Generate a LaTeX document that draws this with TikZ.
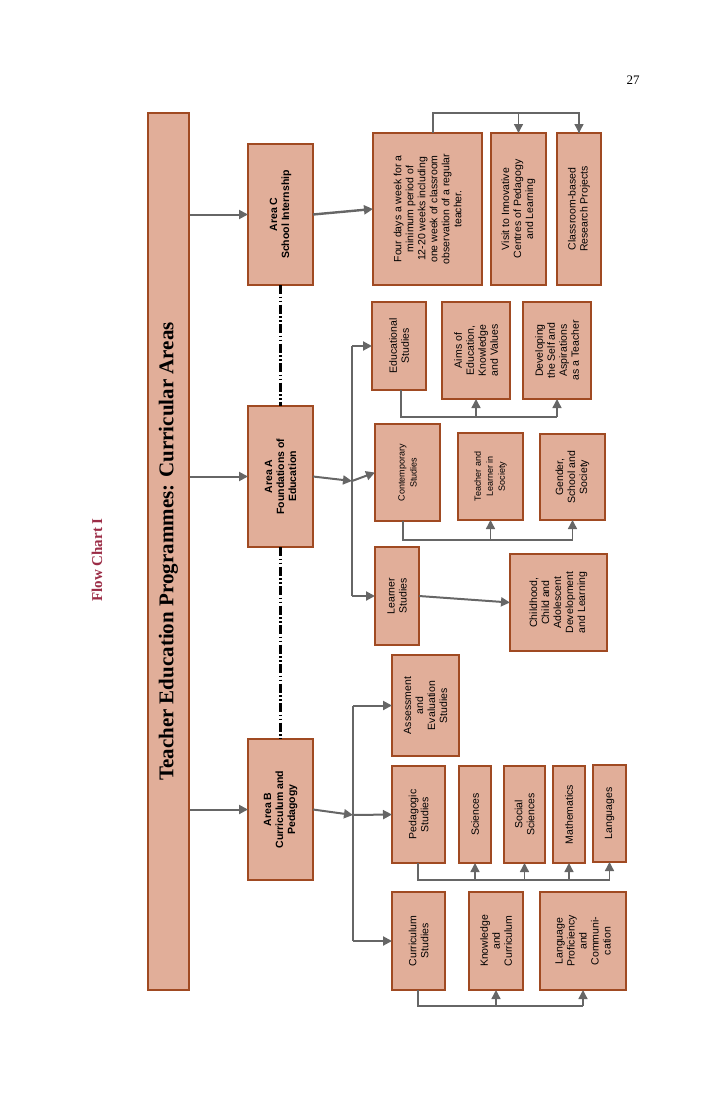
\documentclass[tikz,border=0pt]{standalone}
\usepackage{fontspec}
\setmainfont{Liberation Serif}
\setsansfont{Liberation Sans}
\usetikzlibrary{arrows.meta}
\definecolor{boxfill}{HTML}{E1AE99}
\definecolor{boxline}{HTML}{A04A22}
\definecolor{arrg}{HTML}{666666}
\definecolor{fcred}{HTML}{9B2C46}
\tikzset{
  box/.style={draw=boxline,fill=boxfill,line width=1.2pt,inner sep=1pt,outer sep=0pt,rotate=90,align=center,font=\sffamily\fontsize{10.5}{12}\selectfont},
  arr/.style={draw=arrg,line width=2pt,-{Triangle[length=9pt,width=9pt]}},
  thin/.style={draw=arrg,line width=1.4pt},
  tarr/.style={draw=arrg,line width=1.4pt,-{Triangle[length=9pt,width=9pt]}},
  dd/.style={line width=2.6pt,dash pattern=on 9pt off 2.5pt on 1.5pt off 2.5pt on 1.5pt off 2.5pt}
}
\newcommand\bx[6]{\node[box,minimum width={(#5-#3)*1pt},minimum height={(#4-#2)*1pt}] (#1) at ({(#2+#4)/2},{(#3+#5)/2}) {#6};}
\begin{document}
\begin{tikzpicture}[x=1pt,y=-1pt]
\useasboundingbox (0,0) rectangle (728,1120);
\node (pg) at (633,80) {\fontsize{13}{15}\selectfont 27};
\node[rotate=90,text=fcred,font=\bfseries\fontsize{15}{17}\selectfont] (fc) at (97,560) {Flow Chart I};
\node[draw=boxline,fill=boxfill,line width=1.2pt,rotate=90,minimum width=877pt,minimum height=41pt,inner sep=0pt,font=\bfseries\fontsize{21}{24}\selectfont] (main) at (168.5,551.5) {Teacher Education Programmes: Curricular Areas};
\bx{c}{248}{144}{313}{285}{\textbf{Area C}\\\textbf{School Internship}}
\bx{a}{248}{406}{313}{547}{\textbf{Area A}\\\textbf{Foundations of}\\\textbf{Education}}
\bx{b}{248}{739}{313}{880}{\textbf{Area B}\\\textbf{Curriculum and}\\\textbf{Pedagogy}}
\bx{f}{373}{133}{482}{285}{Four days a week for a\\minimum period of\\12-20 weeks including\\one week of classroom\\observation of a regular\\teacher.}
\bx{v}{491}{133}{546}{285}{Visit to Innovative\\Centres of Pedagogy\\and Learning}
\bx{r}{557}{133}{601}{285}{Classroom-based\\Research Projects}
\bx{es}{372}{302}{426}{390}{Educational\\Studies}
\bx{ai}{442}{302}{510}{399}{Aims of\\Education,\\Knowledge\\and Values}
\bx{dv}{523}{302}{591}{399}{Developing\\the Self and\\Aspirations\\as a Teacher}
\bx{cs}{375}{424}{440}{521}{\fontsize{9}{10.5}\selectfont Contemporary\\\fontsize{9}{10.5}\selectfont Studies}
\bx{tl}{458}{433}{523}{520}{\fontsize{9}{10.5}\selectfont Teacher and\\\fontsize{9}{10.5}\selectfont Learner in\\\fontsize{9}{10.5}\selectfont Society}
\bx{gs}{540}{434}{605}{520}{Gender,\\School and\\Society}
\bx{ls}{375}{547}{419}{645}{Learner\\Studies}
\bx{ch}{510}{554}{607}{651}{Childhood,\\Child and\\Adolescent\\Development\\and Learning}
\bx{as}{392}{655}{459}{756}{Assessment\\and\\Evaluation\\Studies}
\bx{ps}{392}{766}{445}{863}{Pedagogic\\Studies}
\bx{sc}{459}{766}{491}{863}{Sciences}
\bx{ss}{504}{766}{545}{863}{Social\\Sciences}
\bx{ma}{553}{766}{585}{863}{Mathematics}
\bx{la}{593}{765}{626}{862}{Languages}
\bx{cu}{392}{892}{445}{990}{Curriculum\\Studies}
\bx{kc}{469}{892}{523}{990}{Knowledge\\and\\Curriculum}
\bx{lp}{540}{892}{626}{990}{Language\\Proficiency\\and\\Communi-\\cation}
% main to areas
\draw[arr] (main.south|-c) -- (c);
\draw[arr] (main.south|-a) -- (a);
\draw[arr] (main.south|-b) -- (b);
% dash-dot
\draw[dd] (c.west) -- (a.east);
\draw[dd] (a.west) -- (b.east);
% area C
\draw[arr,line width=2.4pt] (c.south) -- (f.north);
\coordinate (t1) at (433,113);
\draw[thin] (433,133) -- (t1) -| (r.east);
\draw[tarr] (v.east|-t1) -- (v.east);
\draw[tarr] (r.east|-t1) -- (r.east);
% area A
\coordinate (sa) at (352,481);
\draw[arr] (a.south) -- (sa);
\draw[thin] (sa|-es) -- (sa|-ls);
\draw[arr] (sa) -- (cs.north);
\draw[arr] (sa|-es) -- (es.north);
\draw[arr] (sa|-ls) -- (ls.north);
\draw[arr] (ls.south) -- (ch.north);
\coordinate (e1) at (401,417);
\draw[thin] (es.west-|e1) -- (e1) -- (e1-|dv.west);
\draw[tarr] (e1-|ai.west) -- (ai.west);
\draw[tarr] (e1-|dv.west) -- (dv.west);
\coordinate (e2) at (403,540);
\draw[thin] (cs.west-|e2) -- (e2) -- (e2-|gs.west);
\draw[tarr] (e2-|tl.west) -- (tl.west);
\draw[tarr] (e2-|gs.west) -- (gs.west);
% area B
\coordinate (sb) at (353,815);
\draw[arr] (b.south) -- (sb);
\draw[thin] (sb|-as) -- (sb|-cu);
\draw[arr] (sb) -- (ps.north);
\draw[arr] (sb|-as) -- (as.north);
\draw[arr] (sb|-cu) -- (cu.north);
\coordinate (e3) at (418,880);
\draw[thin] (ps.west-|e3) -- (e3) -- (e3-|la.west);
\foreach \n in {sc,ss,ma,la} \draw[tarr] (e3-|\n.west) -- (\n.west);
\coordinate (e4) at (418,1006);
\draw[thin] (cu.west-|e4) -- (e4) -- (e4-|lp.west);
\foreach \n in {kc,lp} \draw[tarr] (e4-|\n.west) -- (\n.west);
\end{tikzpicture}
\end{document}
